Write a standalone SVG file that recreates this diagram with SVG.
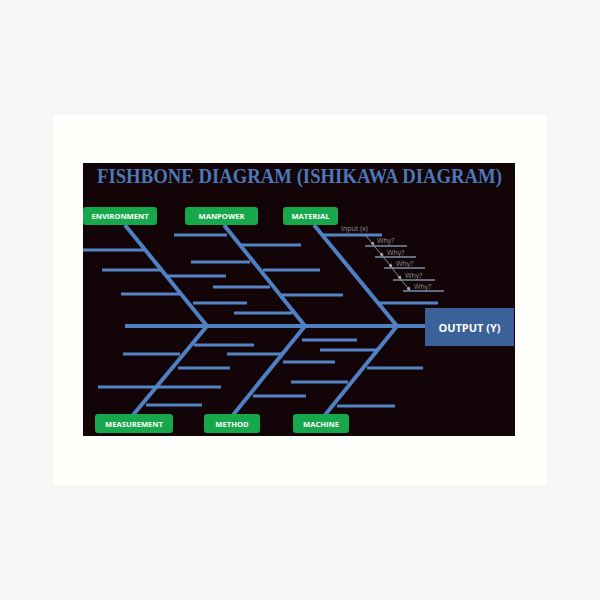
<svg xmlns="http://www.w3.org/2000/svg" width="600" height="600" viewBox="0 0 600 600">
<style>
.bone{stroke:#4f80c4;stroke-width:4;fill:none;stroke-linecap:butt}
.rib{stroke:#5584c6;stroke-width:3;fill:none}
.why{stroke:#7d8fa8;stroke-width:1.5;fill:none}
.lbl{fill:#16a84a}
.lt{font-family:"Open Sans","Liberation Sans",sans-serif;font-weight:bold;font-size:7.6px;fill:#ffffff;text-anchor:middle}
.wt{font-family:"Open Sans","Liberation Sans",sans-serif;font-size:7px;fill:#8d8d8d}
.arr{stroke:#a9b4c4;stroke-width:0.8;fill:none}
</style>
<defs>
<marker id="ah" viewBox="0 0 6 6" refX="5" refY="3" markerWidth="5" markerHeight="5" orient="auto">
<path d="M0,0 L6,3 L0,6 z" fill="#a9b4c4"/>
</marker>
</defs>
<rect x="0" y="0" width="600" height="600" fill="#f6f6f6"/>
<rect x="53" y="115" width="494" height="370" fill="#fefffa"/>
<rect x="83" y="163" width="432" height="273" fill="#120407"/>
<text x="299.5" y="183" font-family="'Liberation Serif',serif" font-weight="bold" font-size="22" fill="#4a78b8" text-anchor="middle" textLength="405" lengthAdjust="spacingAndGlyphs">FISHBONE DIAGRAM (ISHIKAWA DIAGRAM)</text>
<g id="connectors">
<line class="bone" x1="125" y1="326" x2="426" y2="326"/>
<line class="bone" x1="125" y1="225" x2="207" y2="326"/>
<line class="bone" x1="224" y1="225" x2="305" y2="326"/>
<line class="bone" x1="314" y1="225" x2="397" y2="326"/>
<line class="bone" x1="207" y1="326" x2="133" y2="415"/>
<line class="bone" x1="305" y1="326" x2="233" y2="415"/>
<line class="bone" x1="397" y1="326" x2="325" y2="415"/>
<g id="ribs">
<line class="rib" x1="174" y1="235" x2="227" y2="235"/>
<line class="rib" x1="83" y1="250" x2="144" y2="250"/>
<line class="rib" x1="191" y1="262" x2="250" y2="262"/>
<line class="rib" x1="241" y1="245" x2="301" y2="245"/>
<line class="rib" x1="102" y1="270" x2="160" y2="270"/>
<line class="rib" x1="166" y1="276" x2="226" y2="276"/>
<line class="rib" x1="263" y1="270" x2="320" y2="270"/>
<line class="rib" x1="213" y1="287" x2="270" y2="287"/>
<line class="rib" x1="121" y1="294" x2="180" y2="294"/>
<line class="rib" x1="282" y1="295" x2="343" y2="295"/>
<line class="rib" x1="193" y1="303" x2="247" y2="303"/>
<line class="rib" x1="234" y1="313" x2="292" y2="313"/>
<line class="rib" x1="322" y1="235" x2="382" y2="235"/>
<line class="rib" x1="378" y1="303" x2="438" y2="303"/>
<line class="rib" x1="194" y1="345" x2="254" y2="345"/>
<line class="rib" x1="123" y1="354" x2="180" y2="354"/>
<line class="rib" x1="227" y1="354" x2="282" y2="354"/>
<line class="rib" x1="302" y1="340" x2="357" y2="340"/>
<line class="rib" x1="320" y1="350" x2="377" y2="350"/>
<line class="rib" x1="178" y1="368" x2="230" y2="368"/>
<line class="rib" x1="283" y1="362" x2="335" y2="362"/>
<line class="rib" x1="367" y1="368" x2="423" y2="368"/>
<line class="rib" x1="98" y1="387" x2="221" y2="387"/>
<line class="rib" x1="291" y1="382" x2="348" y2="382"/>
<line class="rib" x1="146" y1="405" x2="202" y2="405"/>
<line class="rib" x1="253" y1="396" x2="306" y2="396"/>
<line class="rib" x1="337" y1="406" x2="395" y2="406"/>
</g>
<g id="whys">
<line class="why" x1="365" y1="246" x2="407" y2="246"/>
<line class="why" x1="375" y1="257" x2="416" y2="257"/>
<line class="why" x1="384" y1="268" x2="425" y2="268"/>
<line class="why" x1="393" y1="280" x2="435" y2="280"/>
<line class="why" x1="403" y1="291" x2="444" y2="291"/>
<line class="arr" x1="366" y1="236" x2="374" y2="245" marker-end="url(#ah)"/>
<line class="arr" x1="374" y1="246" x2="383" y2="256" marker-end="url(#ah)"/>
<line class="arr" x1="383" y1="257" x2="392" y2="267" marker-end="url(#ah)"/>
<line class="arr" x1="392" y1="268" x2="401" y2="279" marker-end="url(#ah)"/>
<line class="arr" x1="401" y1="280" x2="410" y2="290" marker-end="url(#ah)"/>
</g>
</g>
<text class="wt" x="341" y="231">Input (x)</text>
<text class="wt" x="377" y="243">Why?</text>
<text class="wt" x="387" y="255">Why?</text>
<text class="wt" x="396" y="266">Why?</text>
<text class="wt" x="405" y="278">Why?</text>
<text class="wt" x="414" y="289">Why?</text>
<g id="environment"><rect class="lbl" x="83" y="207" width="74" height="18" rx="3"/><text class="lt" x="120" y="219">ENVIRONMENT</text></g>
<g id="manpower"><rect class="lbl" x="185" y="207" width="73" height="18" rx="3"/><text class="lt" x="221.5" y="219">MANPOWER</text></g>
<g id="material"><rect class="lbl" x="283" y="207" width="55" height="18" rx="3"/><text class="lt" x="310.5" y="219">MATERIAL</text></g>
<g id="measurement"><rect class="lbl" x="95" y="414" width="78" height="19" rx="3"/><text class="lt" x="134" y="426.5">MEASUREMENT</text></g>
<g id="method"><rect class="lbl" x="204" y="414" width="56" height="19" rx="3"/><text class="lt" x="232" y="426.5">METHOD</text></g>
<g id="machine"><rect class="lbl" x="293" y="414" width="56" height="19" rx="3"/><text class="lt" x="321" y="426.5">MACHINE</text></g>
<g id="output"><rect x="425" y="308" width="89" height="38" fill="#3c6098"/><text x="469.5" y="331.5" font-family="'Open Sans','Liberation Sans',sans-serif" font-weight="bold" font-size="11" fill="#ffffff" text-anchor="middle">OUTPUT (Y)</text></g>
</svg>
